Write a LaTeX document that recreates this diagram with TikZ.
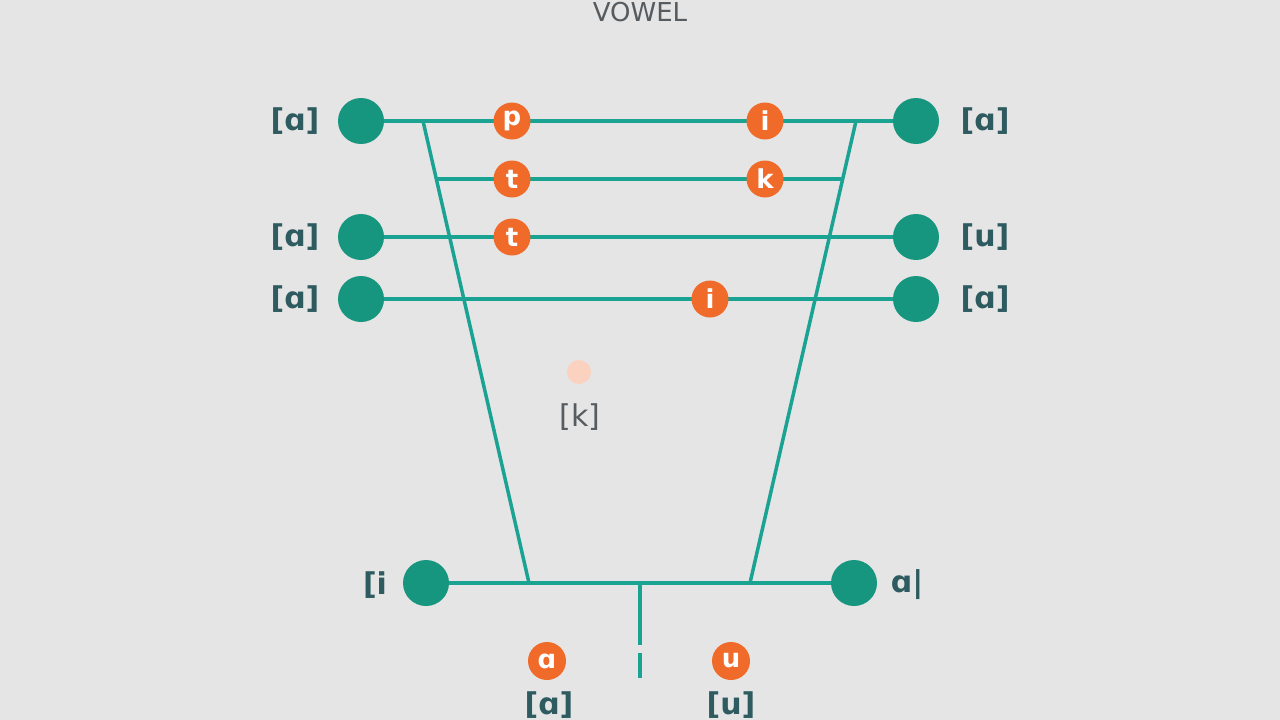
\documentclass[tikz,border=0pt]{standalone}
\usepackage{fontspec}
\setmainfont{DejaVu Sans}
\definecolor{bg}{HTML}{E5E5E5}
\definecolor{teal}{HTML}{1AA393}
\definecolor{dteal}{HTML}{16957F}
\definecolor{org}{HTML}{F06A2A}
\definecolor{txt}{HTML}{2E5B60}
\definecolor{grey}{HTML}{555B5E}
\begin{document}
\begin{tikzpicture}[x=1pt,y=-1pt,
  ln/.style={draw=teal,line width=3.5pt},
  dot/.style={circle,fill=dteal,minimum size=46pt,inner sep=0pt},
  odot/.style={circle,fill=org,minimum size=37pt,inner sep=0pt,text=white,font=\fontsize{26}{26}\selectfont\bfseries},
  lab/.style={text=txt,font=\fontsize{30}{30}\selectfont\bfseries}]
\fill[bg] (0,0) rectangle (1280,720);
\useasboundingbox (0,0) rectangle (1280,720);
\node[text=grey,font=\fontsize{26}{26}\selectfont] (title) at (640,12) {VOWEL};
\coordinate (lt) at (423,121); \coordinate (lb) at (529,583);
\coordinate (rt) at (856,121); \coordinate (rb) at (750,583);
\coordinate (r2l) at (437,179); \coordinate (r2r) at (841,179);
\coordinate (vt) at (640,583); \coordinate (vm1) at (640,645); \coordinate (vm2) at (640,653); \coordinate (vb) at (640,678);
\coordinate (l1) at (361,121); \coordinate (r1) at (916,121);
\coordinate (l3) at (361,237); \coordinate (r3) at (916,237);
\coordinate (l4) at (361,299); \coordinate (r4) at (916,299);
\coordinate (bl) at (426,583); \coordinate (br) at (854,583);
\draw[ln] (l1) -- (r1);
\draw[ln] (r2l) -- (r2r);
\draw[ln] (l3) -- (r3);
\draw[ln] (l4) -- (r4);
\draw[ln] (bl) -- (br);
\draw[ln] (lt) -- (lb);
\draw[ln] (rt) -- (rb);
\draw[ln] (vt) -- (vm1);
\draw[ln] (vm2) -- (vb);
\node[dot] (dl1) at (l1) {}; \node[dot] (dr1) at (r1) {};
\node[dot] (dl3) at (l3) {}; \node[dot] (dr3) at (r3) {};
\node[dot] (dl4) at (l4) {}; \node[dot] (dr4) at (r4) {};
\node[dot] (dbl) at (bl) {}; \node[dot] (dbr) at (br) {};
\node[odot] (p) at (512,121) {p};
\node[odot] (i1) at (765,121) {i};
\node[odot] (t1) at (512,179) {t};
\node[odot] (k) at (765,179) {k};
\node[odot] (t2) at (512,237) {t};
\node[odot] (i2) at (710,299) {i};
\node[circle,fill=org!30,minimum size=24pt,inner sep=0pt] (faint) at (579,372) {};
\node[text=grey,font=\fontsize{30}{30}\selectfont] (kl) at (580,417) {[k]};
\node[lab] (a1) at (295,121) {[ɑ]}; \node[lab] (a2) at (985,121) {[ɑ]};
\node[lab] (a3) at (295,237) {[ɑ]}; \node[lab] (u1) at (985,237) {[u]};
\node[lab] (a4) at (295,299) {[ɑ]}; \node[lab] (a5) at (985,299) {[ɑ]};
\node[lab] (bi) at (375,585) {[i};
\node[lab] (ba) at (907,585) {ɑ|};
\node[odot,minimum size=38pt] (oa) at (547,661) {ɑ};
\node[odot,minimum size=38pt] (ou) at (731,661) {u};
\node[lab] (la) at (549,705) {[ɑ]};
\node[lab] (lu) at (731,705) {[u]};
\end{tikzpicture}
\end{document}
